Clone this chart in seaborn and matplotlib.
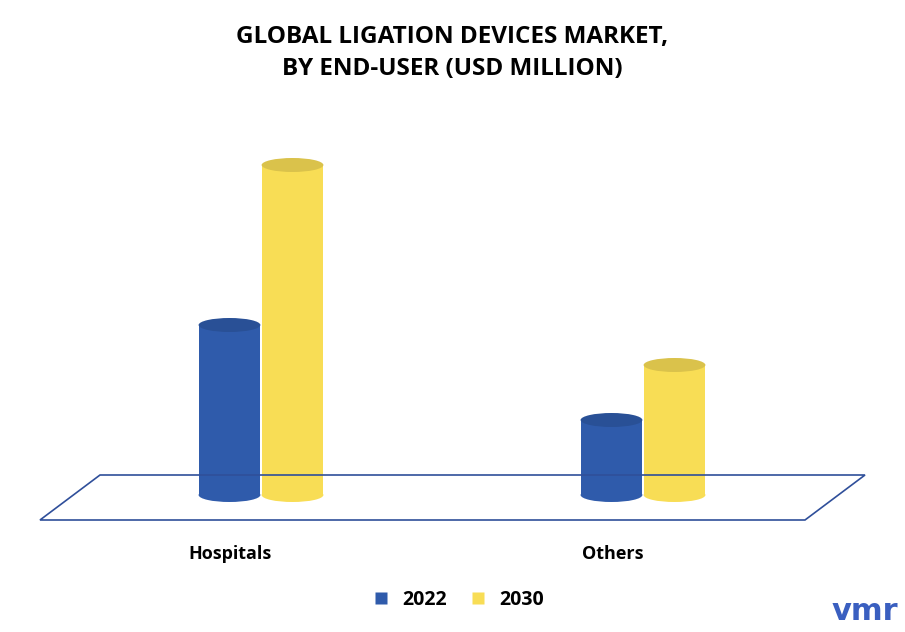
import numpy as np
import pandas as pd
import matplotlib
matplotlib.use("Agg")
import matplotlib.pyplot as plt
from matplotlib.patches import Polygon, Ellipse
import seaborn as sns

# data (relative heights)
categories = ["Hospitals", "Others"]
years = ["2022", "2030"]
values_2022 = [170, 75]
values_2030 = [330, 130]
colors = {"2022": "#2f5bab", "2030": "#f8dd55"}

df = pd.DataFrame({
    "End-user": categories * 2,
    "Year": [years[0]] * 2 + [years[1]] * 2,
    "Value": values_2022 + values_2030,
})

W, H = 905, 632
fig = plt.figure(figsize=(W / 100, H / 100), dpi=100)
fig.patch.set_facecolor("white")

# floor
floor = Polygon([(40 / W, 1 - 520 / H), (100 / W, 1 - 475 / H),
                 (865 / W, 1 - 475 / H), (805 / W, 1 - 520 / H)],
                closed=True, transform=fig.transFigure, facecolor="none",
                edgecolor="#2f4f9a", linewidth=1.2, zorder=0)
fig.patches.append(floor)

base = 1 - 495 / H
top = 1 - 150 / H
ax = fig.add_axes([40 / W, base, 825 / W, top - base])
ax.set_facecolor("none")
sns.barplot(data=df, x="End-user", y="Value", hue="Year", palette=colors,
            width=0.33, gap=0.02, ax=ax, legend=False, edgecolor="none",
            saturation=1)
ax.set_xlim(-221 / 382, 604 / 382)
ax.set_ylim(0, 345)

# cylinder caps
for p in ax.patches:
    x, w, h = p.get_x(), p.get_width(), p.get_height()
    if h <= 0:
        continue
    fc = p.get_facecolor()
    dark = tuple(np.array(fc[:3]) * 0.88)
    ax.add_patch(Ellipse((x + w / 2, 0), w, 14, facecolor=fc, edgecolor="none",
                         clip_on=False))
    ax.add_patch(Ellipse((x + w / 2, h), w, 14, facecolor=dark, edgecolor="none"))

for s in ax.spines.values():
    s.set_visible(False)
ax.set_yticks([])
ax.set_xlabel("")
ax.set_ylabel("")
# labels sit a little left of the group centre, as in the original
ax.set_xticks([i - 0.08 for i in range(len(categories))])
ax.set_xticklabels(categories)
ax.tick_params(axis="x", length=0, pad=36)
for lbl in ax.get_xticklabels():
    lbl.set_fontsize(13)
    lbl.set_fontweight("bold")
    lbl.set_fontfamily("Open Sans")

fig.text(0.5, 1 - 53 / H, "GLOBAL LIGATION DEVICES MARKET,\nBY END-USER (USD MILLION)",
         ha="center", va="center", fontsize=17.5, fontweight="bold",
         family="Open Sans", linespacing=1.45)

handles = [plt.Line2D([], [], marker="s", linestyle="", markersize=8,
                      markerfacecolor=colors[y], markeredgecolor="none") for y in years]
fig.legend(handles, years, loc="center", bbox_to_anchor=(0.5, 1 - 600 / H), ncol=2,
           frameon=False, prop={"family": "Open Sans", "weight": "bold", "size": 14},
           handletextpad=0.1, columnspacing=0.6)

fig.text(865 / W, 1 - 612 / H, "vmr", ha="center", va="center", fontsize=22,
         fontweight="bold", color="#3a5fc0", family="DejaVu Sans")

fig.savefig("out.png", dpi=100)
